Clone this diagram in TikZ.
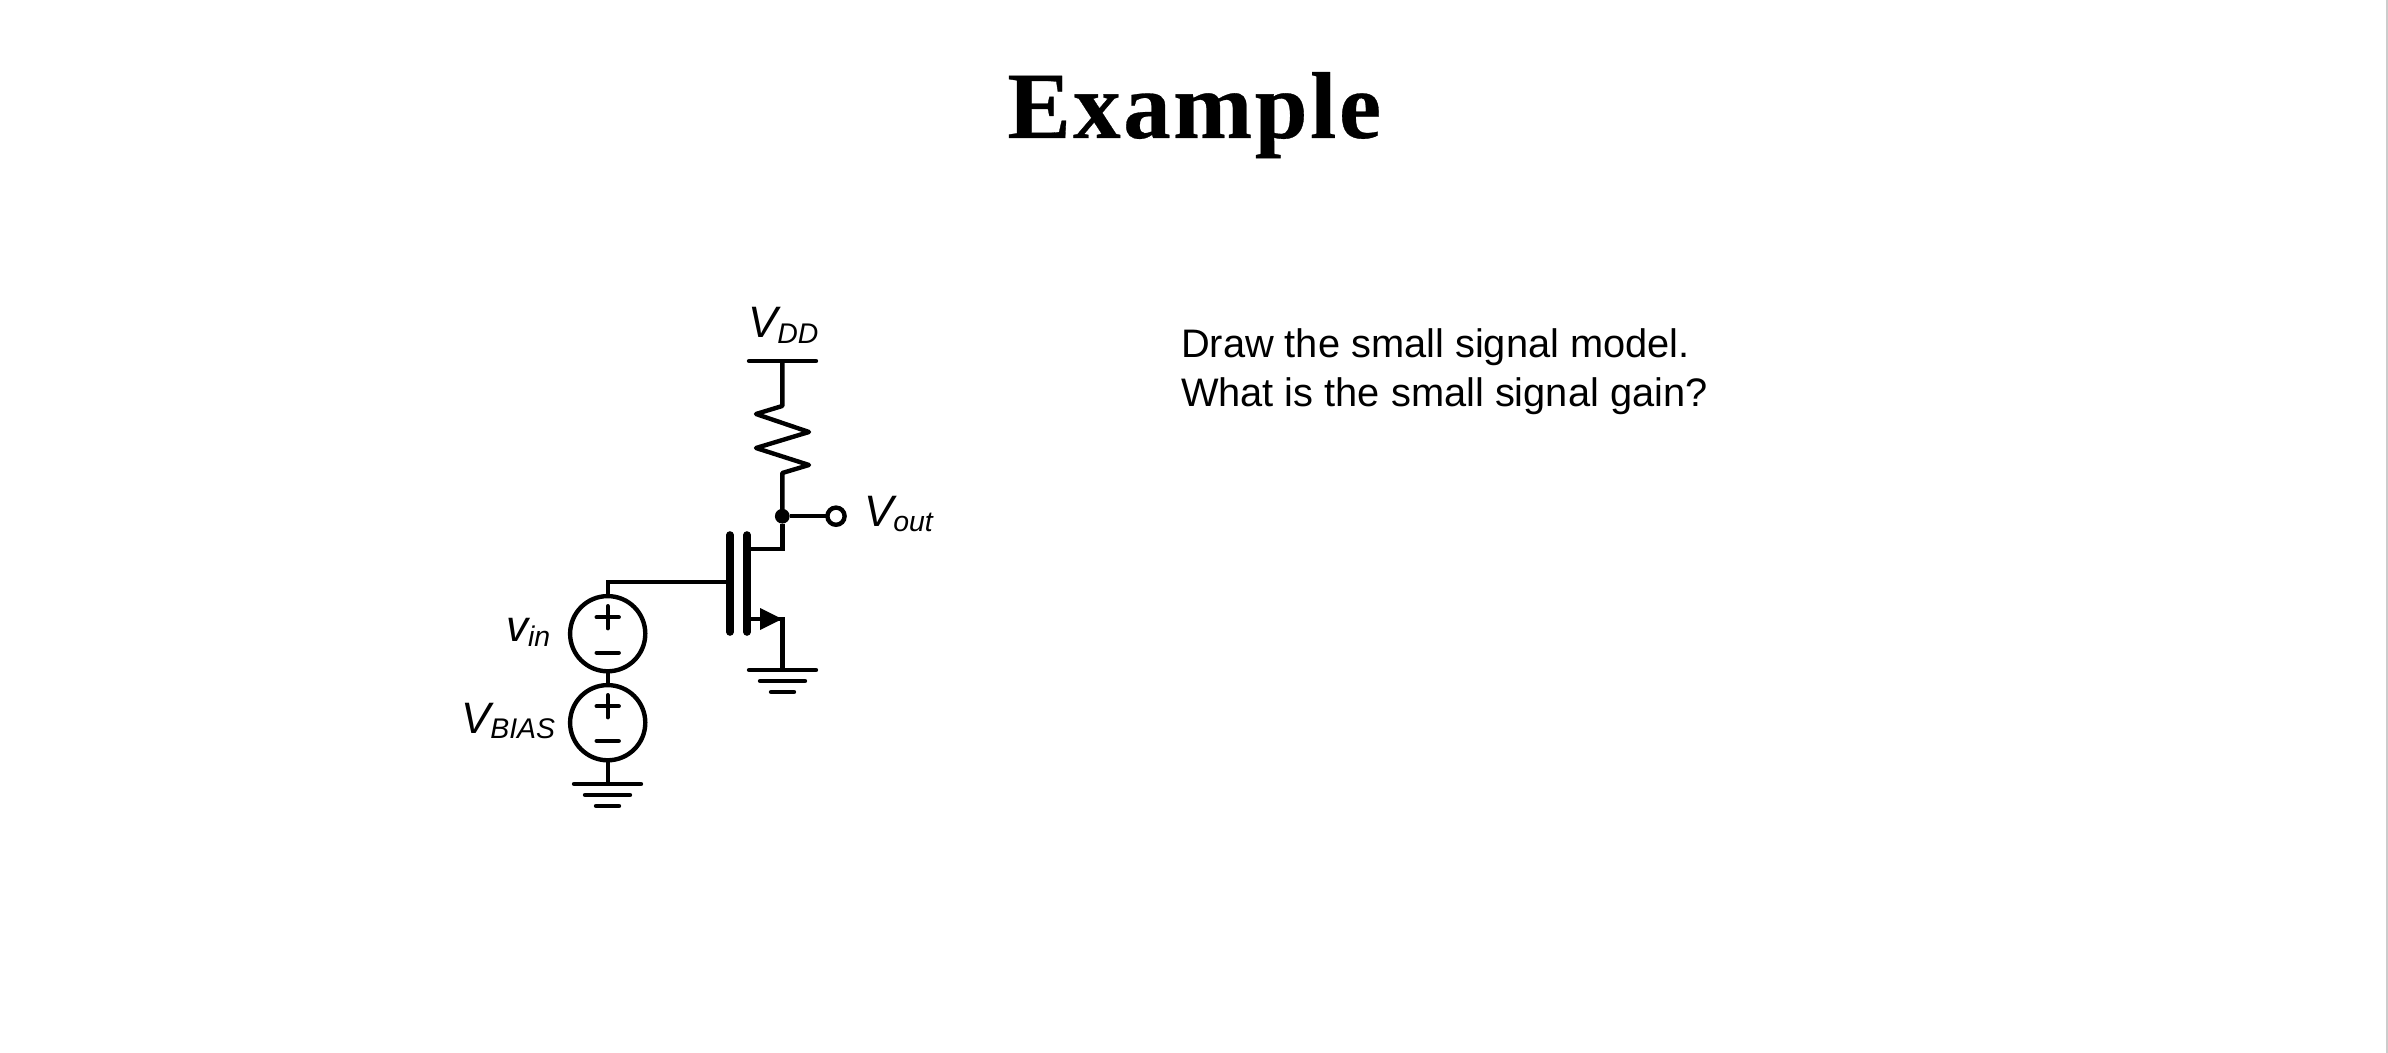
\documentclass[tikz,border=0pt]{standalone}
\usepackage{fontspec}
\setmainfont{Liberation Sans}
\newfontfamily\titlefont[LetterSpace=2.6,BoldFeatures={FakeBold=0.3}]{Liberation Serif}
\newcommand{\biglab}[3]{{\fontsize{22}{22}\selectfont\itshape #1}\kern#3pt\raisebox{-2.8pt}{\fontsize{14.2}{14.2}\selectfont\itshape #2}}
\tikzset{
  wire/.style={line width=2.2pt,line cap=butt,line join=miter,black},
  bar/.style={line width=2.2pt,line cap=round,black},
  plate/.style={line width=3.8pt,line cap=round,black},
  lab/.style={anchor=base west,inner sep=0pt,outer sep=0pt},
  source/.style={circle,draw,line width=2.2pt,minimum size=37.6pt,inner sep=0pt,outer sep=0pt},
  dotnode/.style={circle,fill=black,minimum size=7.4pt,inner sep=0pt,outer sep=0pt},
  opennode/.style={circle,draw,fill=white,line width=2.2pt,minimum size=8.6pt,inner sep=0pt,outer sep=0pt}
}
\begin{document}
\begin{tikzpicture}[x=0.5pt,y=-0.5pt]
\useasboundingbox (0,0) rectangle (2388,1053);
\fill[white] (0,0) rectangle (2388,1053);
\fill[black!20] (2386,0) rectangle (2388,1053);

\node[lab] (title) at (1007.5,138) {\titlefont\bfseries\fontsize{47.5}{50}\selectfont Example};
\node[lab] (q1) at (1181,358) {\fontsize{19.9}{24}\selectfont Draw the small signal model.};
\node[lab] (q2) at (1181,407) {\fontsize{19.9}{24}\selectfont What is the small signal gain?};

\node[lab] (lvdd) at (748,338) {\biglab{V}{DD}{0}};
\node[lab] (lvout) at (864,526) {\biglab{V}{out}{0}};
\node[lab] (lvin) at (506,641) {\biglab{v}{in}{0}};
\node[lab] (lvbias) at (461,733) {\biglab{V}{BIAS}{0}};

% VDD rail and resistor
\coordinate (vddL) at (749,361);
\coordinate (vddR) at (816,361);
\coordinate (vdd) at (782.3,361);
\coordinate (rtop) at (782.3,406);
\coordinate (rbot) at (782.3,473);
\node[dotnode] (out) at (782.3,516.2) {};
\node[opennode] (pin) at (836,516.2) {};
\draw[bar] (vddL) -- (vddR);
\draw[wire,line join=round] (vdd) -- (rtop) -- (756,414) -- (809,432) -- (756,448) -- (809,465) -- (rbot) -- (out);
\draw[wire] (out) -- (pin);

% MOSFET
\coordinate (gT) at (730,535);
\coordinate (gB) at (730,632);
\coordinate (cT) at (747,535);
\coordinate (cB) at (747,632);
\coordinate (gate) at (730,582);
\coordinate (dCh) at (747,549);
\coordinate (dCorner) at (782.3,549);
\coordinate (sCh) at (747,619);
\coordinate (sCorner) at (782.3,619);
\coordinate (gnd1) at (782.3,670);
\draw[plate] (gT) -- (gB);
\draw[plate] (cT) -- (cB);
\draw[wire] (out) -- (dCorner) -- (dCh);
\draw[wire] (sCh) -- (sCorner) -- (gnd1);
\fill[black] (sCorner) -- (760,608) -- (760,630) -- cycle;

% transistor ground
\coordinate (g1aL) at (749,670);
\coordinate (g1aR) at (816,670);
\coordinate (g1bL) at (760,681);
\coordinate (g1bR) at (805,681);
\coordinate (g1cL) at (771,692);
\coordinate (g1cR) at (794,692);
\draw[bar] (g1aL) -- (g1aR);
\draw[bar] (g1bL) -- (g1bR);
\draw[bar] (g1cL) -- (g1cR);

% sources
\node[source] (vin) at (607.7,633.7) {};
\node[source] (vbias) at (607.7,722.7) {};
\coordinate (gcorner) at (607.7,582);
\draw[wire] (vin.north) -- (gcorner) -- (gate);
\draw[wire] (vin.south) -- (vbias.north);
\coordinate (gnd2) at (607.7,784);
\draw[wire] (vbias.south) -- (gnd2);

\coordinate (p1a) at (596.7,617.2);
\coordinate (p1b) at (618.7,617.2);
\coordinate (p1c) at (607.7,606.2);
\coordinate (p1d) at (607.7,628.2);
\coordinate (m1a) at (596.7,652.7);
\coordinate (m1b) at (618.7,652.7);
\draw[bar] (p1a) -- (p1b);
\draw[bar] (p1c) -- (p1d);
\draw[bar] (m1a) -- (m1b);
\coordinate (p2a) at (596.7,706.2);
\coordinate (p2b) at (618.7,706.2);
\coordinate (p2c) at (607.7,695.2);
\coordinate (p2d) at (607.7,717.2);
\coordinate (m2a) at (596.7,741);
\coordinate (m2b) at (618.7,741);
\draw[bar] (p2a) -- (p2b);
\draw[bar] (p2c) -- (p2d);
\draw[bar] (m2a) -- (m2b);

% source ground
\coordinate (g2aL) at (574,784);
\coordinate (g2aR) at (641,784);
\coordinate (g2bL) at (585,795);
\coordinate (g2bR) at (630,795);
\coordinate (g2cL) at (596,806);
\coordinate (g2cR) at (619,806);
\draw[bar] (g2aL) -- (g2aR);
\draw[bar] (g2bL) -- (g2bR);
\draw[bar] (g2cL) -- (g2cR);
\end{tikzpicture}
\end{document}
